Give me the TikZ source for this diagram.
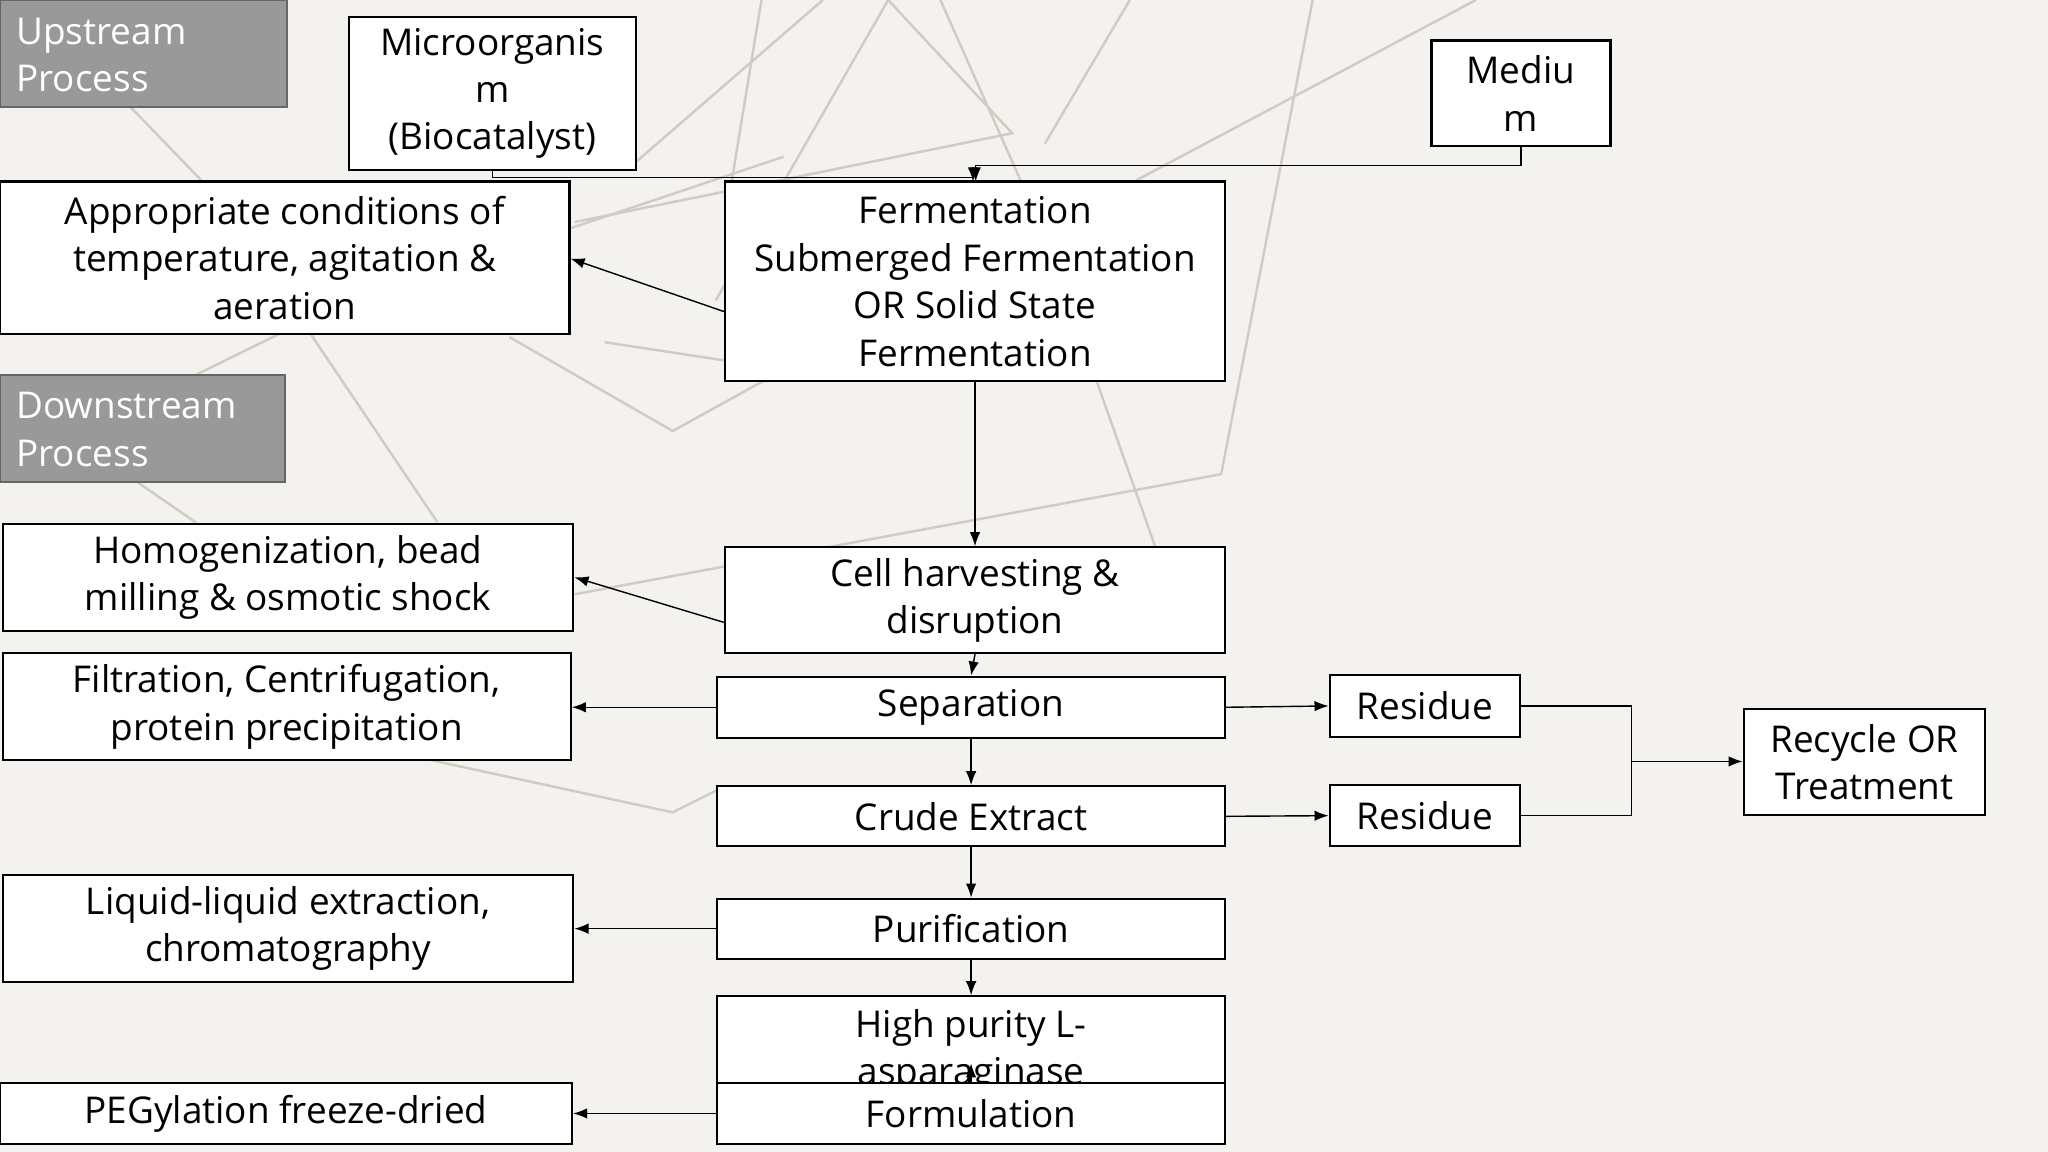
\documentclass[tikz,border=0pt]{standalone}
\usepackage{fontspec}
\setmainfont{Open Sans}
\usetikzlibrary{arrows.meta}
\definecolor{paper}{HTML}{F3F2EE}
\definecolor{decogray}{HTML}{CFCCC4}
\definecolor{tag}{HTML}{999999}
\newcommand\pxl{0.013061cm}
\tikzset{
  flowbox/.style={draw=black, fill=white, line width=0.6pt, inner sep=0pt, align=center,
    font=\fontsize{10.5}{13.5}\selectfont},
  tagbox/.style={flowbox, fill=tag, draw=black!60},
  flow/.style={-{Latex[length=4pt,width=3pt]}, line width=0.4pt},
  deco/.style={draw=decogray, line width=0.7pt}
}
\begin{document}
\begin{tikzpicture}[x=0.013061cm, y=-0.013061cm]
\fill[paper] (0,0) rectangle (1568,882);
\useasboundingbox (0,0) rectangle (1568,882);
% background lines
\draw[deco] (548,230) -- (680,0);
\draw[deco] (680,0) -- (775,102) -- (440,170);
\draw[deco] (720,0) -- (800,180) -- (885,420);
\draw[deco] (560,140) -- (583,0);
\draw[deco] (800,110) -- (865,0);
\draw[deco] (1005,0) -- (935,363) -- (440,455);
\draw[deco] (870,138) -- (1130,0);
\draw[deco] (220,80) -- (120,0) -- (60,0);
\draw[deco] (100,82) -- (155,139);
\draw[deco] (390,258) -- (515,330) -- (660,250);
\draw[deco] (463,262) -- (555,276);
\draw[deco] (238,256) -- (335,400);
\draw[deco] (213,256) -- (150,287);
\draw[deco] (105,369) -- (150,400);
\draw[deco] (330,582) -- (515,622) -- (549,605);
\draw[deco] (436,175) -- (600,120);
\draw[deco] (480,130) -- (630,0);
% boxes
\node[tagbox, minimum width={220*\pxl}, minimum height={82*\pxl}] (up) at (110,41) {};
\node[text=white, align=left, anchor=north west, inner sep=0pt, font=\fontsize{10.5}{13.5}\selectfont] (uplab) at (12,13) {Upstream\\Process};
\node[flowbox, minimum width={220*\pxl}, minimum height={117*\pxl}] (micro) at (377,71.5) {Microorganis\\m\\(Biocatalyst)};
\node[flowbox, minimum width={137*\pxl}, minimum height={81*\pxl}] (medium) at (1164.5,71.5) {Mediu\\m};
\node[flowbox, minimum width={436*\pxl}, minimum height={117*\pxl}] (cond) at (218,197.5) {Appropriate conditions of\\temperature, agitation \&\\aeration};
\node[flowbox, minimum width={383*\pxl}, minimum height={153*\pxl}] (ferm) at (746.5,215.5) {Fermentation\\Submerged Fermentation\\OR Solid State\\Fermentation};
\node[tagbox, minimum width={218*\pxl}, minimum height={82*\pxl}] (down) at (109,328) {};
\node[text=white, align=left, anchor=north west, inner sep=0pt, font=\fontsize{10.5}{13.5}\selectfont] (downlab) at (12,300) {Downstream\\Process};
\node[flowbox, minimum width={437*\pxl}, minimum height={82*\pxl}] (homog) at (220.5,442) {Homogenization, bead\\milling \& osmotic shock};
\node[flowbox, minimum width={383*\pxl}, minimum height={81*\pxl}] (cell) at (746.5,459.5) {Cell harvesting \&\\disruption};
\node[flowbox, minimum width={435*\pxl}, minimum height={82*\pxl}] (filt) at (219.5,541) {Filtration, Centrifugation,\\protein precipitation};
\node[flowbox, minimum width={389*\pxl}, minimum height={47*\pxl}] (sep) at (743.5,541.5) {Separation};
\node[flowbox, minimum width={146*\pxl}, minimum height={47*\pxl}] (resA) at (1091,540.5) {Residue};
\node[flowbox, minimum width={389*\pxl}, minimum height={46*\pxl}] (crude) at (743.5,625) {Crude Extract};
\node[flowbox, minimum width={146*\pxl}, minimum height={47*\pxl}] (resB) at (1091,624.5) {Residue};
\node[flowbox, minimum width={185*\pxl}, minimum height={81*\pxl}] (recyc) at (1427.5,583.5) {Recycle OR\\Treatment};
\node[flowbox, minimum width={437*\pxl}, minimum height={82*\pxl}] (liquid) at (220.5,711) {Liquid-liquid extraction,\\chromatography};
\node[flowbox, minimum width={389*\pxl}, minimum height={46*\pxl}] (purif) at (743.5,711) {Purification};
\node[flowbox, minimum width={389*\pxl}, minimum height={88*\pxl}, anchor=north] (pure) at (743.5,762) {};
\node[align=center, anchor=north, inner sep=0pt, font=\fontsize{10.5}{13.5}\selectfont] (purelab) at (743.5,772) {High purity L-\\asparaginase};
\node[flowbox, minimum width={438*\pxl}, minimum height={47*\pxl}] (peg) at (219,852.5) {PEGylation freeze-dried};
\node[flowbox, minimum width={389*\pxl}, minimum height={47*\pxl}] (formu) at (743.5,852.5) {Formulation};
% connectors
\coordinate (fermin) at (745,139);
\draw[flow] (micro.south) -- ++(0,5) -| (fermin);
\draw[flow] (medium.south) -- ++(0,14) -| ([xshift=2*\pxl]fermin);
\draw[flow] ([yshift=-23*\pxl]ferm.west) -- (cond.east |- 0,198);
\draw[flow] (ferm.south) -- (cell.north);
\draw[flow] ([yshift=-17*\pxl]cell.west) -- (homog.east);
\draw[flow] (cell.south) -- (sep.north);
\draw[flow] (sep.west) -- (filt.east |- sep.west);
\draw[flow] (sep.east) -- (resA.west);
\draw[flow] (sep.south) -- (crude.north);
\draw[flow] (crude.east) -- (resB.west);
\draw[flow] (crude.south) -- (purif.north);
\draw[flow] (purif.west) -- (liquid.east |- purif.west);
\draw[flow] (purif.south) -- (pure.north);
\draw[flow] (formu.west) -- (peg.east);
\draw[flow] (formu.north) -- ++(0,-14);
\coordinate (join) at (1249,583);
\draw (resA.east) -| (join);
\draw (resB.east) -| (join);
\draw[flow] (join) -- (recyc.west |- join);
\end{tikzpicture}
\end{document}
